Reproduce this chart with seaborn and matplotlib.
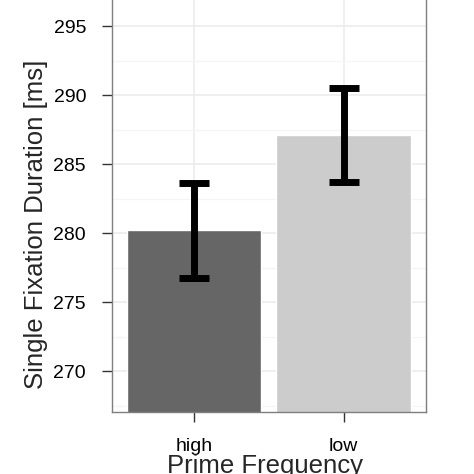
import matplotlib.pyplot as plt
import seaborn as sns
import pandas as pd
from matplotlib.ticker import MultipleLocator

# values
prime_frequency = ['high', 'low']
mean_duration = [280.22, 287.12]
error_half = [3.44, 3.42]
bar_colors = ['#666666', '#cccccc']

sns.set_style('white')
plt.rcParams['font.family'] = ['Liberation Sans', 'DejaVu Sans']

df = pd.DataFrame({'frequency': prime_frequency, 'duration': mean_duration})

fig = plt.figure(figsize=(4.74, 4.74), dpi=100)
ax = fig.add_axes([0.2363, 0.1308, 0.6618, 0.9156])

sns.barplot(data=df, x='frequency', y='duration', hue='frequency',
            palette=bar_colors, width=0.9, saturation=1, errorbar=None,
            legend=False, ax=ax, zorder=2)
ax.errorbar(x=range(len(prime_frequency)), y=mean_duration, yerr=error_half,
            fmt='none', ecolor='black', elinewidth=5, capsize=10.7,
            capthick=5, zorder=3)

ax.set_xlim(-0.55, 1.55)
ax.set_ylim(267.05, 298.5)

# ggplot-like theme_bw grid
ax.yaxis.set_major_locator(MultipleLocator(5))
ax.yaxis.set_minor_locator(MultipleLocator(2.5))
ax.set_axisbelow(True)
ax.grid(which='major', axis='both', color='#ebebeb', lw=1.1, zorder=0)
ax.grid(which='minor', axis='y', color='#f5f5f5', lw=1.0, zorder=0)
ax.tick_params(which='minor', length=0)
ax.tick_params(which='major', length=7.2, width=1, color='#333333',
               labelsize=14, pad=11.5, labelcolor='black')
ax.tick_params(axis='x', bottom=True)
ax.tick_params(axis='y', left=True)

for sp in ax.spines.values():
    sp.set_visible(True)
    sp.set_color('#7f7f7f')
    sp.set_linewidth(1)

ax.set_xlabel('Prime Frequency', fontsize=18.5)
ax.set_ylabel('Single Fixation Duration [ms]', fontsize=18.5)
ax.xaxis.set_label_coords(0.4862, -0.1406)
ax.xaxis.label.set_va('baseline')
ax.yaxis.set_label_coords(-0.2209, 0.4332)
ax.yaxis.label.set_va('baseline')

fig.savefig('out.png', dpi=100)
